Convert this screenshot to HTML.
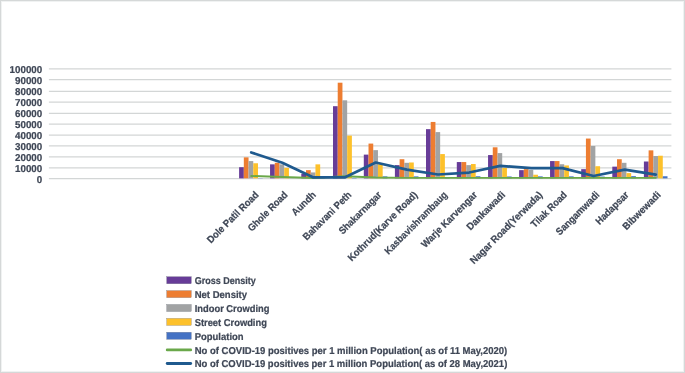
<!DOCTYPE html>
<html><head><meta charset="utf-8"><title>Chart</title>
<style>html,body{margin:0;padding:0;background:#fff}body{width:685px;height:373px;overflow:hidden}</style></head>
<body>
<svg width="685" height="373" viewBox="0 0 685 373" style="display:block">
<rect x="0" y="0" width="685" height="373" fill="#fff"/>
<rect x="0.5" y="0.5" width="684" height="372" fill="none" stroke="#d5d8d8" stroke-width="1"/>
<rect x="1.5" y="1.5" width="682" height="370" fill="none" stroke="#f0f2f2" stroke-width="1"/>
<line x1="48.9" x2="671.4" y1="178.60" y2="178.60" stroke="#d3d6d6" stroke-width="1.25"/>
<line x1="48.9" x2="671.4" y1="167.80" y2="167.80" stroke="#d3d6d6" stroke-width="1.25"/>
<line x1="48.9" x2="671.4" y1="156.90" y2="156.90" stroke="#d3d6d6" stroke-width="1.25"/>
<line x1="48.9" x2="671.4" y1="145.90" y2="145.90" stroke="#d3d6d6" stroke-width="1.25"/>
<line x1="48.9" x2="671.4" y1="135.10" y2="135.10" stroke="#d3d6d6" stroke-width="1.25"/>
<line x1="48.9" x2="671.4" y1="124.20" y2="124.20" stroke="#d3d6d6" stroke-width="1.25"/>
<line x1="48.9" x2="671.4" y1="113.30" y2="113.30" stroke="#d3d6d6" stroke-width="1.25"/>
<line x1="48.9" x2="671.4" y1="102.20" y2="102.20" stroke="#d3d6d6" stroke-width="1.25"/>
<line x1="48.9" x2="671.4" y1="91.40" y2="91.40" stroke="#d3d6d6" stroke-width="1.25"/>
<line x1="48.9" x2="671.4" y1="79.70" y2="79.70" stroke="#d3d6d6" stroke-width="1.25"/>
<line x1="48.9" x2="671.4" y1="68.75" y2="68.75" stroke="#d3d6d6" stroke-width="1.25"/>
<g font-family="Liberation Sans, Arial, sans-serif" font-weight="bold" font-size="10" text-rendering="geometricPrecision" fill="#3f4756" stroke="#3f4756" stroke-width="0.22" text-anchor="end">
<text x="42.2" y="182.60" textLength="5.4" lengthAdjust="spacingAndGlyphs">0</text>
<text x="42.2" y="171.80" textLength="27.2" lengthAdjust="spacingAndGlyphs">10000</text>
<text x="42.2" y="160.90" textLength="27.2" lengthAdjust="spacingAndGlyphs">20000</text>
<text x="42.2" y="149.90" textLength="27.2" lengthAdjust="spacingAndGlyphs">30000</text>
<text x="42.2" y="139.10" textLength="27.2" lengthAdjust="spacingAndGlyphs">40000</text>
<text x="42.2" y="128.20" textLength="27.2" lengthAdjust="spacingAndGlyphs">50000</text>
<text x="42.2" y="117.30" textLength="27.2" lengthAdjust="spacingAndGlyphs">60000</text>
<text x="42.2" y="106.20" textLength="27.2" lengthAdjust="spacingAndGlyphs">70000</text>
<text x="42.2" y="95.40" textLength="27.2" lengthAdjust="spacingAndGlyphs">80000</text>
<text x="42.2" y="83.70" textLength="27.2" lengthAdjust="spacingAndGlyphs">90000</text>
<text x="42.2" y="72.75" textLength="32.6" lengthAdjust="spacingAndGlyphs">100000</text>
</g>
<rect x="239.10" y="167.19" width="4.72" height="11.16" fill="#673c98"/>
<rect x="243.82" y="157.36" width="4.72" height="20.99" fill="#ed7d31"/>
<rect x="248.54" y="161.07" width="4.72" height="17.28" fill="#a1a3a4"/>
<rect x="253.26" y="163.26" width="4.72" height="15.09" fill="#fdc12b"/>
<rect x="257.98" y="178.12" width="4.72" height="0.23" fill="#4472c4"/>
<rect x="270.05" y="164.35" width="4.72" height="14.00" fill="#673c98"/>
<rect x="274.77" y="162.82" width="4.72" height="15.53" fill="#ed7d31"/>
<rect x="279.49" y="164.35" width="4.72" height="14.00" fill="#a1a3a4"/>
<rect x="284.21" y="167.85" width="4.72" height="10.50" fill="#fdc12b"/>
<rect x="288.93" y="178.29" width="4.72" height="0.06" fill="#4472c4"/>
<rect x="301.30" y="173.75" width="4.72" height="4.60" fill="#673c98"/>
<rect x="306.02" y="170.14" width="4.72" height="8.21" fill="#ed7d31"/>
<rect x="310.74" y="172.44" width="4.72" height="5.91" fill="#a1a3a4"/>
<rect x="315.46" y="164.35" width="4.72" height="14.00" fill="#fdc12b"/>
<rect x="320.18" y="178.01" width="4.72" height="0.34" fill="#4472c4"/>
<rect x="333.00" y="106.20" width="4.72" height="72.15" fill="#673c98"/>
<rect x="337.72" y="82.70" width="4.72" height="95.65" fill="#ed7d31"/>
<rect x="342.44" y="100.30" width="4.72" height="78.05" fill="#a1a3a4"/>
<rect x="347.16" y="135.60" width="4.72" height="42.75" fill="#fdc12b"/>
<rect x="351.88" y="177.90" width="4.72" height="0.45" fill="#4472c4"/>
<rect x="363.80" y="154.62" width="4.72" height="23.73" fill="#673c98"/>
<rect x="368.52" y="143.58" width="4.72" height="34.77" fill="#ed7d31"/>
<rect x="373.24" y="150.14" width="4.72" height="28.21" fill="#a1a3a4"/>
<rect x="377.96" y="164.24" width="4.72" height="14.11" fill="#fdc12b"/>
<rect x="382.68" y="176.37" width="4.72" height="1.98" fill="#4472c4"/>
<rect x="394.90" y="165.12" width="4.72" height="13.23" fill="#673c98"/>
<rect x="399.62" y="159.21" width="4.72" height="19.14" fill="#ed7d31"/>
<rect x="404.34" y="162.82" width="4.72" height="15.53" fill="#a1a3a4"/>
<rect x="409.06" y="162.49" width="4.72" height="15.86" fill="#fdc12b"/>
<rect x="413.78" y="176.37" width="4.72" height="1.98" fill="#4472c4"/>
<rect x="426.00" y="129.16" width="4.72" height="49.19" fill="#673c98"/>
<rect x="430.72" y="121.94" width="4.72" height="56.41" fill="#ed7d31"/>
<rect x="435.44" y="132.11" width="4.72" height="46.24" fill="#a1a3a4"/>
<rect x="440.16" y="154.08" width="4.72" height="24.27" fill="#fdc12b"/>
<rect x="444.88" y="177.90" width="4.72" height="0.45" fill="#4472c4"/>
<rect x="456.80" y="162.05" width="4.72" height="16.30" fill="#673c98"/>
<rect x="461.52" y="162.05" width="4.72" height="16.30" fill="#ed7d31"/>
<rect x="466.24" y="165.12" width="4.72" height="13.23" fill="#a1a3a4"/>
<rect x="470.96" y="164.02" width="4.72" height="14.33" fill="#fdc12b"/>
<rect x="475.68" y="176.26" width="4.72" height="2.09" fill="#4472c4"/>
<rect x="488.05" y="155.06" width="4.72" height="23.29" fill="#673c98"/>
<rect x="492.77" y="147.30" width="4.72" height="31.05" fill="#ed7d31"/>
<rect x="497.49" y="153.09" width="4.72" height="25.26" fill="#a1a3a4"/>
<rect x="502.21" y="167.85" width="4.72" height="10.50" fill="#fdc12b"/>
<rect x="506.93" y="176.48" width="4.72" height="1.87" fill="#4472c4"/>
<rect x="519.10" y="170.14" width="4.72" height="8.21" fill="#673c98"/>
<rect x="523.82" y="169.16" width="4.72" height="9.19" fill="#ed7d31"/>
<rect x="528.54" y="169.92" width="4.72" height="8.43" fill="#a1a3a4"/>
<rect x="533.26" y="174.73" width="4.72" height="3.62" fill="#fdc12b"/>
<rect x="537.98" y="176.37" width="4.72" height="1.98" fill="#4472c4"/>
<rect x="550.05" y="161.07" width="4.72" height="17.28" fill="#673c98"/>
<rect x="554.77" y="161.07" width="4.72" height="17.28" fill="#ed7d31"/>
<rect x="559.49" y="164.24" width="4.72" height="14.11" fill="#a1a3a4"/>
<rect x="564.21" y="165.44" width="4.72" height="12.91" fill="#fdc12b"/>
<rect x="568.93" y="176.37" width="4.72" height="1.98" fill="#4472c4"/>
<rect x="581.20" y="169.16" width="4.72" height="9.19" fill="#673c98"/>
<rect x="585.92" y="138.56" width="4.72" height="39.79" fill="#ed7d31"/>
<rect x="590.64" y="145.99" width="4.72" height="32.36" fill="#a1a3a4"/>
<rect x="595.36" y="166.21" width="4.72" height="12.14" fill="#fdc12b"/>
<rect x="600.08" y="176.59" width="4.72" height="1.76" fill="#4472c4"/>
<rect x="612.30" y="166.65" width="4.72" height="11.70" fill="#673c98"/>
<rect x="617.02" y="159.21" width="4.72" height="19.14" fill="#ed7d31"/>
<rect x="621.74" y="162.82" width="4.72" height="15.53" fill="#a1a3a4"/>
<rect x="626.46" y="173.09" width="4.72" height="5.26" fill="#fdc12b"/>
<rect x="631.18" y="176.15" width="4.72" height="2.20" fill="#4472c4"/>
<rect x="643.90" y="161.51" width="4.72" height="16.84" fill="#673c98"/>
<rect x="648.62" y="150.36" width="4.72" height="27.99" fill="#ed7d31"/>
<rect x="653.34" y="156.04" width="4.72" height="22.31" fill="#a1a3a4"/>
<rect x="658.06" y="155.72" width="4.72" height="22.63" fill="#fdc12b"/>
<rect x="662.78" y="176.26" width="4.72" height="2.09" fill="#4472c4"/>
<polyline points="251.21,175.94 282.34,177.03 313.46,178.07 344.59,176.26 375.71,177.58 406.84,177.85 437.96,177.85 469.09,177.85 500.21,177.85 531.34,177.88 562.46,177.88 593.59,177.88 624.71,177.85 655.84,177.85" fill="none" stroke="#6aa84a" stroke-width="1.95" stroke-linecap="round" stroke-linejoin="round"/>
<polyline points="251.21,152.44 282.34,162.82 313.46,177.47 344.59,177.47 375.71,162.49 406.84,169.60 437.96,174.52 469.09,172.55 500.21,165.88 531.34,168.18 562.46,168.18 593.59,176.05 624.71,169.60 655.84,174.62" fill="none" stroke="#1f5a8e" stroke-width="2.7" stroke-linecap="round" stroke-linejoin="round"/>
<g font-family="Liberation Sans, Arial, sans-serif" font-weight="bold" font-size="10" text-rendering="geometricPrecision" fill="#3f4756" stroke="#3f4756" stroke-width="0.22" text-anchor="end">
<text transform="translate(259.17,195.50) rotate(-45)" x="0" y="0" textLength="68.2" lengthAdjust="spacingAndGlyphs">Dole Patil Road</text>
<text transform="translate(288.16,195.50) rotate(-45)" x="0" y="0" textLength="51.6" lengthAdjust="spacingAndGlyphs">Ghole Road</text>
<text transform="translate(316.43,195.50) rotate(-45)" x="0" y="0" textLength="29.5" lengthAdjust="spacingAndGlyphs">Aundh</text>
<text transform="translate(352.02,195.50) rotate(-45)" x="0" y="0" textLength="64.1" lengthAdjust="spacingAndGlyphs">Bahavani Peth</text>
<text transform="translate(382.05,195.50) rotate(-45)" x="0" y="0" textLength="55.6" lengthAdjust="spacingAndGlyphs">Shakarnagar</text>
<text transform="translate(418.10,195.50) rotate(-45)" x="0" y="0" textLength="93.8" lengthAdjust="spacingAndGlyphs">Kothrud(Karve Road)</text>
<text transform="translate(447.96,195.50) rotate(-45)" x="0" y="0" textLength="84.0" lengthAdjust="spacingAndGlyphs">Kasbavishrambaug</text>
<text transform="translate(477.88,195.50) rotate(-45)" x="0" y="0" textLength="74.6" lengthAdjust="spacingAndGlyphs">Warje Karvengar</text>
<text transform="translate(505.81,195.50) rotate(-45)" x="0" y="0" textLength="49.9" lengthAdjust="spacingAndGlyphs">Dankawadi</text>
<text transform="translate(543.09,195.50) rotate(-45)" x="0" y="0" textLength="97.6" lengthAdjust="spacingAndGlyphs">Nagar Road(Yerwada)</text>
<text transform="translate(567.59,195.50) rotate(-45)" x="0" y="0" textLength="46.3" lengthAdjust="spacingAndGlyphs">Tilak Road</text>
<text transform="translate(600.09,195.50) rotate(-45)" x="0" y="0" textLength="56.9" lengthAdjust="spacingAndGlyphs">Sangamwadi</text>
<text transform="translate(629.32,195.50) rotate(-45)" x="0" y="0" textLength="42.2" lengthAdjust="spacingAndGlyphs">Hadapsar</text>
<text transform="translate(661.38,195.50) rotate(-45)" x="0" y="0" textLength="49.5" lengthAdjust="spacingAndGlyphs">Bibwewadi</text>
</g>
<g font-family="Liberation Sans, Arial, sans-serif" font-weight="bold" font-size="10" text-rendering="geometricPrecision" fill="#3f4756" stroke="#3f4756" stroke-width="0.22">
<rect x="166.7" y="276.70" width="24.6" height="7" fill="#673c98"/>
<text x="194.7" y="283.95" textLength="61.2" lengthAdjust="spacingAndGlyphs">Gross Density</text>
<rect x="166.7" y="290.60" width="24.6" height="7" fill="#ed7d31"/>
<text x="194.7" y="297.85" textLength="52.4" lengthAdjust="spacingAndGlyphs">Net Density</text>
<rect x="166.7" y="304.50" width="24.6" height="7" fill="#a1a3a4"/>
<text x="194.7" y="311.75" textLength="74.8" lengthAdjust="spacingAndGlyphs">Indoor Crowding</text>
<rect x="166.7" y="318.40" width="24.6" height="7" fill="#fdc12b"/>
<text x="194.7" y="325.65" textLength="72.2" lengthAdjust="spacingAndGlyphs">Street Crowding</text>
<rect x="166.7" y="332.30" width="24.6" height="7" fill="#4472c4"/>
<text x="194.7" y="339.55" textLength="48.9" lengthAdjust="spacingAndGlyphs">Population</text>
<line x1="167.2" x2="190.7" y1="349.90" y2="349.90" stroke="#6aa84a" stroke-width="2.8" stroke-linecap="round"/>
<text x="194.7" y="353.75" textLength="312.6" lengthAdjust="spacingAndGlyphs">No of COVID-19 positives per 1 million Population( as of 11 May,2020)</text>
<line x1="167.2" x2="190.7" y1="363.50" y2="363.50" stroke="#1f5a8e" stroke-width="2.8" stroke-linecap="round"/>
<text x="194.7" y="367.35" textLength="312.6" lengthAdjust="spacingAndGlyphs">No of COVID-19 positives per 1 million Population( as of 28 May,2021)</text>
</g>
</svg>
</body></html>
